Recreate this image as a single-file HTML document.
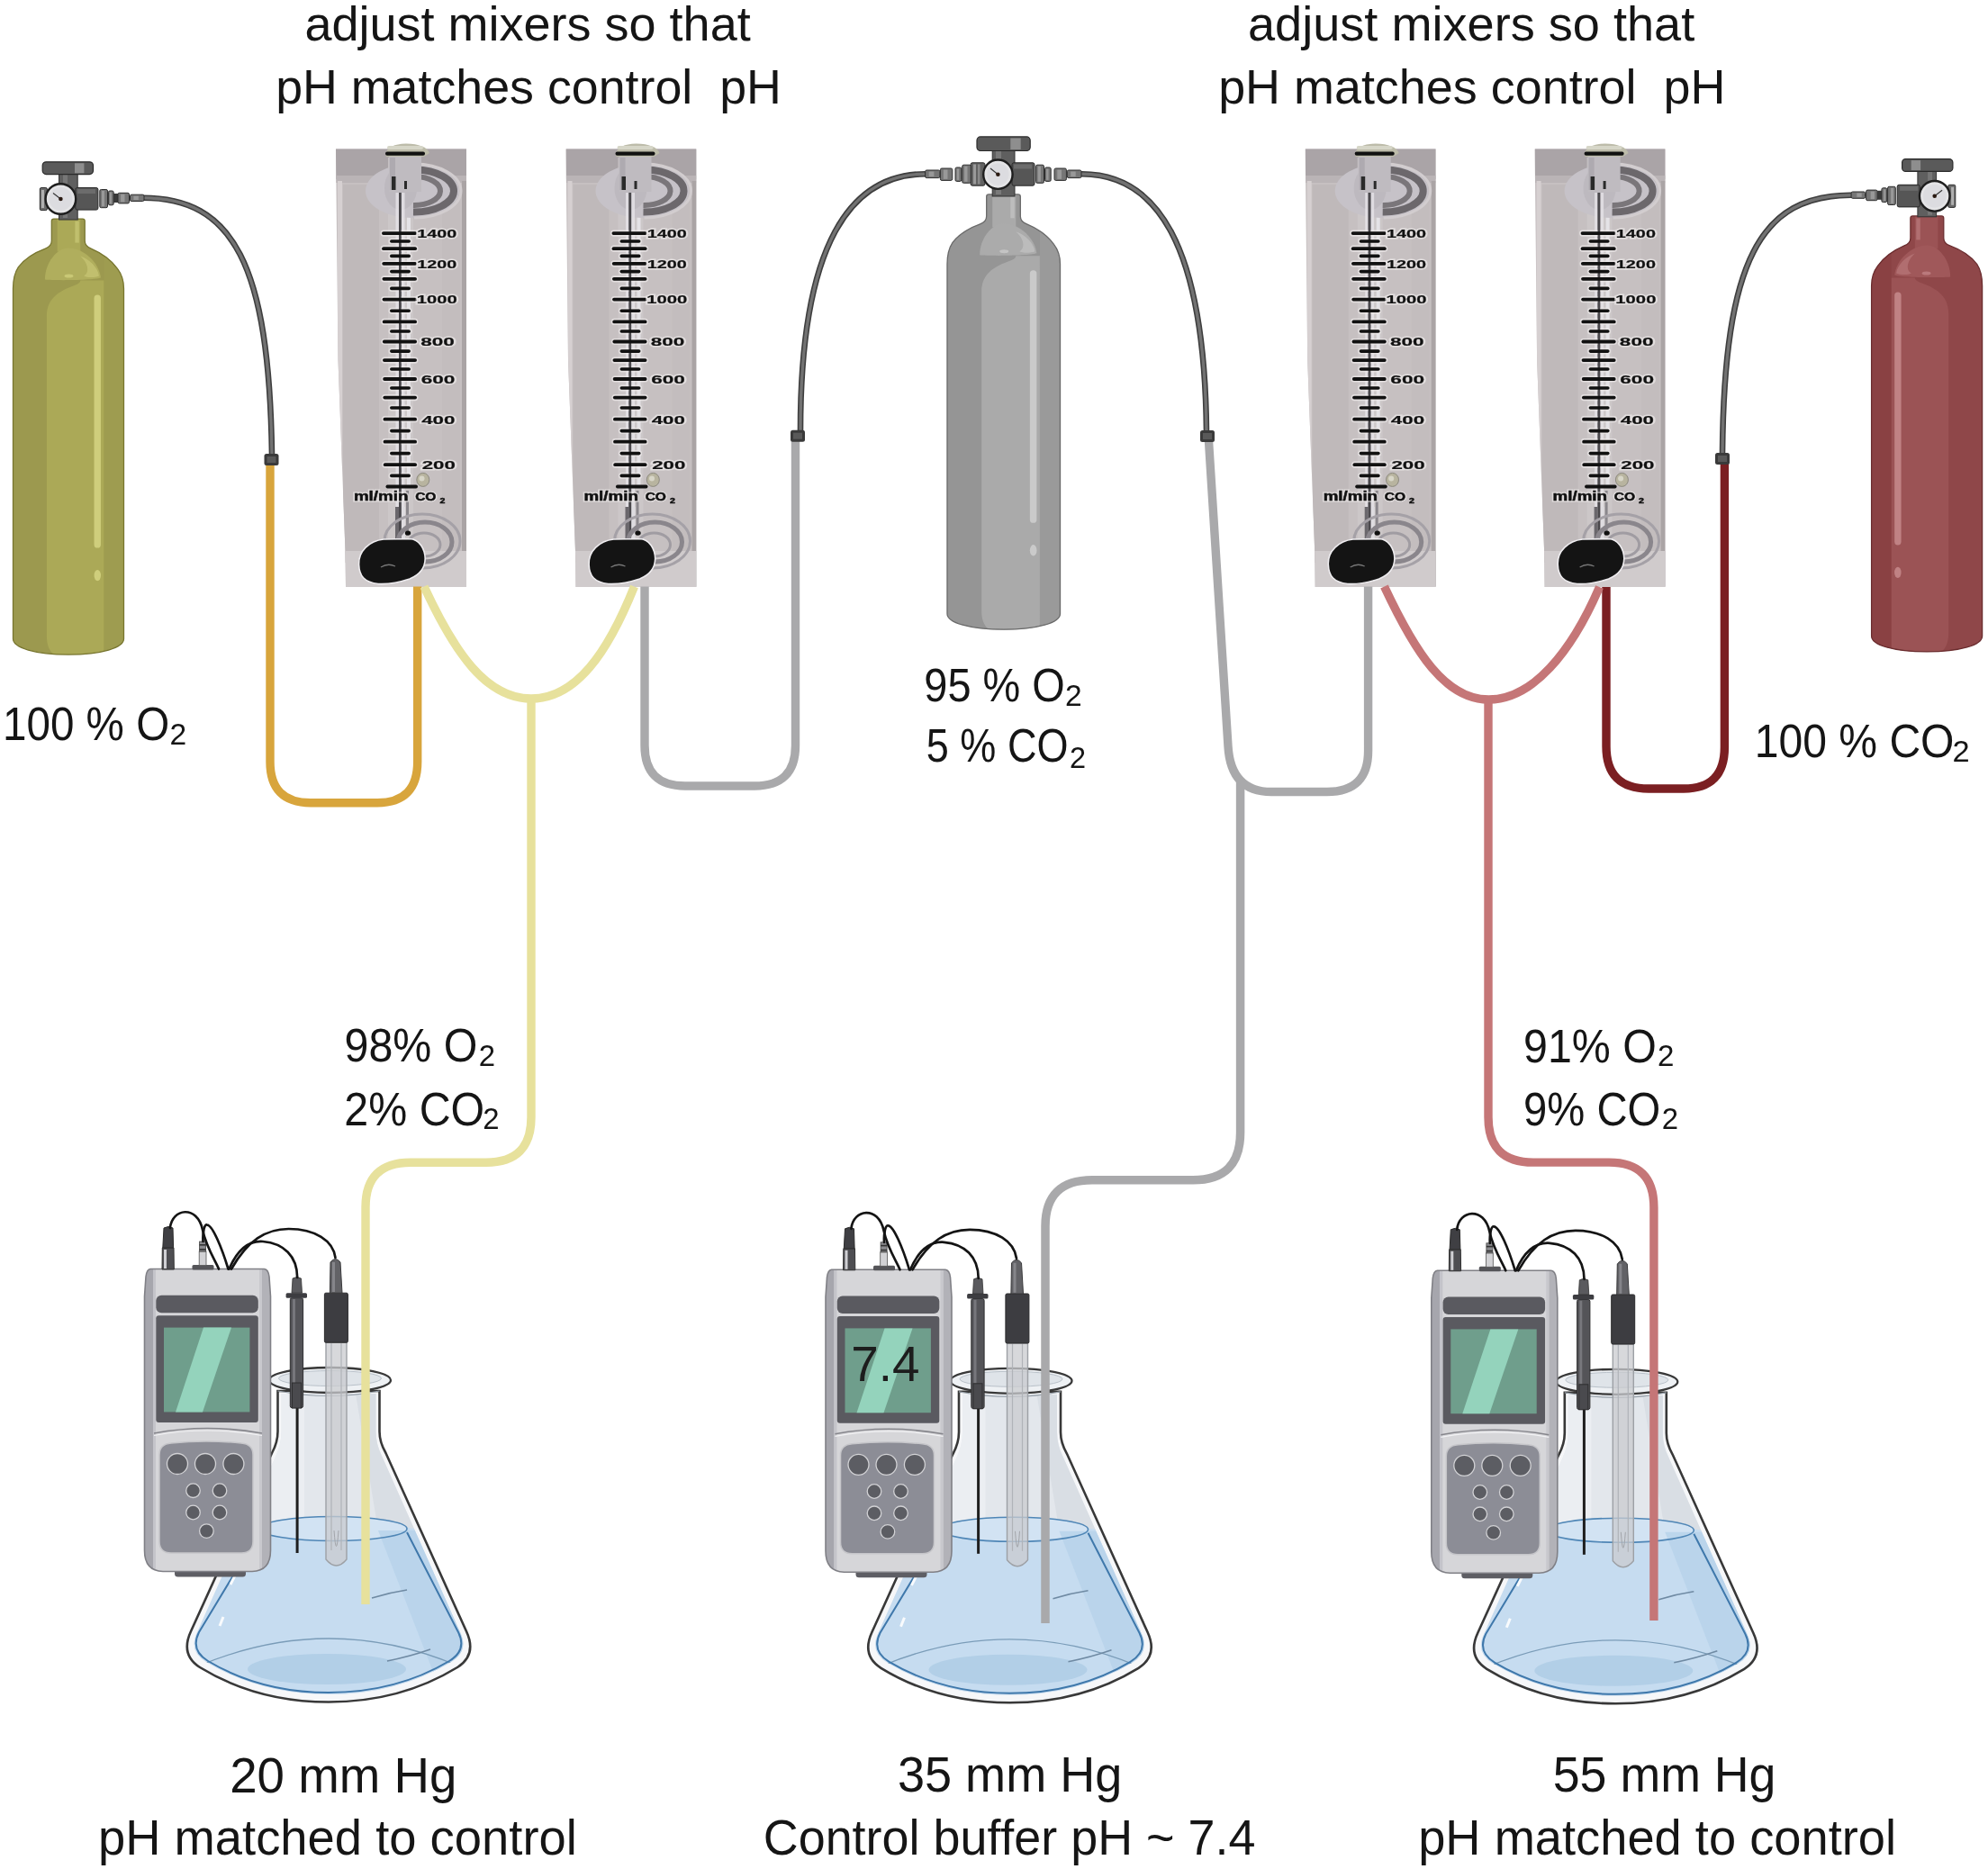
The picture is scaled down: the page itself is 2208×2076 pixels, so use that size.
<!DOCTYPE html>
<html><head><meta charset="utf-8"><title>Gas mixing setup</title>
<style>
html,body{margin:0;padding:0;background:#ffffff;}
body{width:2208px;height:2076px;overflow:hidden;}
svg{display:block;font-family:"Liberation Sans",sans-serif;font-kerning:none;will-change:transform;}
text{font-kerning:none;}
</style></head><body>
<svg xmlns="http://www.w3.org/2000/svg" width="2208" height="2076" viewBox="0 0 2208 2076">
<rect width="2208" height="2076" fill="#ffffff"/>
<defs><clipPath id="clipY"><path d="M43.5,66 Q43.5,63.5 46,63.5 L78.5,63.5 Q81,63.5 81,66 L81,88 Q81,94 88,96.5 Q108,105 118,119 Q125,128 125,141 L125,530 C125,540 100,547.5 62.5,547.5 C25,547.5 0,540 0,530 L0,141 Q0,126 6,117 Q16,104 36.5,96.5 Q43.5,94 43.5,88 Z"/></clipPath><g id="cylY"><path d="M43.5,66 Q43.5,63.5 46,63.5 L78.5,63.5 Q81,63.5 81,66 L81,88 Q81,94 88,96.5 Q108,105 118,119 Q125,128 125,141 L125,530 C125,540 100,547.5 62.5,547.5 C25,547.5 0,540 0,530 L0,141 Q0,126 6,117 Q16,104 36.5,96.5 Q43.5,94 43.5,88 Z" fill="#9c994f"/><g clip-path="url(#clipY)"><rect x="102.5" y="60" width="25" height="490" fill="#9e9c50"/><rect x="50" y="60" width="26" height="40" fill="#aba957"/><rect x="70" y="66" width="4.5" height="24" fill="#cfce7c" opacity="0.6"/><path d="M36,131 C36,112 50,96 62,96 C80,96 97,112 99,129 C90,132 45,132 36,131 Z" fill="#b0ae5d"/><path d="M76,105 C86,108 96,118 97,127 C92,129 84,129 80,127 C86,124 86,114 76,105 Z" fill="#cfce7c" opacity="0.55"/><ellipse cx="63" cy="127" rx="5" ry="2" fill="#cfce7c" opacity="0.8"/><path d="M38,172 C38,150 55,143 68,138 C74,136 76,134 76,132 L102.5,132 L102.5,550 L55,550 C45,550 38,542 38,527 Z" fill="#aba957"/><rect x="91.5" y="148" width="7.5" height="281" rx="3.7" fill="#cfce7c"/><ellipse cx="95.3" cy="459.5" rx="3.8" ry="6.2" fill="#cfce7c"/></g><path d="M43.5,66 Q43.5,63.5 46,63.5 L78.5,63.5 Q81,63.5 81,66 L81,88 Q81,94 88,96.5 Q108,105 118,119 Q125,128 125,141 L125,530 C125,540 100,547.5 62.5,547.5 C25,547.5 0,540 0,530 L0,141 Q0,126 6,117 Q16,104 36.5,96.5 Q43.5,94 43.5,88 Z" fill="none" stroke="#77752f" stroke-width="1.3"/></g><clipPath id="clipG"><path d="M43.5,66 Q43.5,63.5 46,63.5 L78.5,63.5 Q81,63.5 81,66 L81,88 Q81,94 88,96.5 Q108,105 118,119 Q125,128 125,141 L125,530 C125,540 100,547.5 62.5,547.5 C25,547.5 0,540 0,530 L0,141 Q0,126 6,117 Q16,104 36.5,96.5 Q43.5,94 43.5,88 Z"/></clipPath><g id="cylG"><path d="M43.5,66 Q43.5,63.5 46,63.5 L78.5,63.5 Q81,63.5 81,66 L81,88 Q81,94 88,96.5 Q108,105 118,119 Q125,128 125,141 L125,530 C125,540 100,547.5 62.5,547.5 C25,547.5 0,540 0,530 L0,141 Q0,126 6,117 Q16,104 36.5,96.5 Q43.5,94 43.5,88 Z" fill="#959595"/><g clip-path="url(#clipG)"><rect x="102.5" y="60" width="25" height="490" fill="#9a9a9a"/><rect x="50" y="60" width="26" height="40" fill="#aaaaaa"/><rect x="70" y="66" width="4.5" height="24" fill="#cacaca" opacity="0.6"/><path d="M36,131 C36,112 50,96 62,96 C80,96 97,112 99,129 C90,132 45,132 36,131 Z" fill="#ababab"/><path d="M76,105 C86,108 96,118 97,127 C92,129 84,129 80,127 C86,124 86,114 76,105 Z" fill="#cacaca" opacity="0.55"/><ellipse cx="63" cy="127" rx="5" ry="2" fill="#cacaca" opacity="0.8"/><path d="M38,172 C38,150 55,143 68,138 C74,136 76,134 76,132 L102.5,132 L102.5,550 L55,550 C45,550 38,542 38,527 Z" fill="#aaaaaa"/><rect x="91.5" y="148" width="7.5" height="281" rx="3.7" fill="#cacaca"/><ellipse cx="95.3" cy="459.5" rx="3.8" ry="6.2" fill="#cacaca"/></g><path d="M43.5,66 Q43.5,63.5 46,63.5 L78.5,63.5 Q81,63.5 81,66 L81,88 Q81,94 88,96.5 Q108,105 118,119 Q125,128 125,141 L125,530 C125,540 100,547.5 62.5,547.5 C25,547.5 0,540 0,530 L0,141 Q0,126 6,117 Q16,104 36.5,96.5 Q43.5,94 43.5,88 Z" fill="none" stroke="#6a6a6a" stroke-width="1.3"/></g><clipPath id="clipR"><path d="M43.5,66 Q43.5,63.5 46,63.5 L78.5,63.5 Q81,63.5 81,66 L81,88 Q81,94 88,96.5 Q108,105 118,119 Q125,128 125,141 L125,530 C125,540 100,547.5 62.5,547.5 C25,547.5 0,540 0,530 L0,141 Q0,126 6,117 Q16,104 36.5,96.5 Q43.5,94 43.5,88 Z"/></clipPath><g id="cylR"><path d="M43.5,66 Q43.5,63.5 46,63.5 L78.5,63.5 Q81,63.5 81,66 L81,88 Q81,94 88,96.5 Q108,105 118,119 Q125,128 125,141 L125,530 C125,540 100,547.5 62.5,547.5 C25,547.5 0,540 0,530 L0,141 Q0,126 6,117 Q16,104 36.5,96.5 Q43.5,94 43.5,88 Z" fill="#8f4749"/><g clip-path="url(#clipR)"><rect x="102.5" y="60" width="25" height="490" fill="#8a4143"/><rect x="50" y="60" width="26" height="40" fill="#9b5355"/><rect x="70" y="66" width="4.5" height="24" fill="#c08284" opacity="0.6"/><path d="M36,131 C36,112 50,96 62,96 C80,96 97,112 99,129 C90,132 45,132 36,131 Z" fill="#a0585a"/><path d="M76,105 C86,108 96,118 97,127 C92,129 84,129 80,127 C86,124 86,114 76,105 Z" fill="#c08284" opacity="0.55"/><ellipse cx="63" cy="127" rx="5" ry="2" fill="#c08284" opacity="0.8"/><path d="M38,172 C38,150 55,143 68,138 C74,136 76,134 76,132 L102.5,132 L102.5,550 L55,550 C45,550 38,542 38,527 Z" fill="#9b5355"/><rect x="91.5" y="148" width="7.5" height="281" rx="3.7" fill="#c08284"/><ellipse cx="95.3" cy="459.5" rx="3.8" ry="6.2" fill="#c08284"/></g><path d="M43.5,66 Q43.5,63.5 46,63.5 L78.5,63.5 Q81,63.5 81,66 L81,88 Q81,94 88,96.5 Q108,105 118,119 Q125,128 125,141 L125,530 C125,540 100,547.5 62.5,547.5 C25,547.5 0,540 0,530 L0,141 Q0,126 6,117 Q16,104 36.5,96.5 Q43.5,94 43.5,88 Z" fill="none" stroke="#6a2c2e" stroke-width="1.3"/></g><g id="regY"><rect x="65.5" y="192" width="20.7" height="52" fill="#5f5f5f" stroke="#333" stroke-width="1"/><rect x="70" y="194" width="5" height="48" fill="#777"/><rect x="47.2" y="179.8" width="56.3" height="13.8" rx="4" fill="#5a5a5a" stroke="#2a2a2a" stroke-width="1.2"/><rect x="83" y="181.3" width="10.4" height="11" fill="#8e8e8e"/><rect x="44.3" y="208.5" width="8" height="25.1" rx="1.5" fill="#6a6a6a" stroke="#2e2e2e" stroke-width="1"/><rect x="46" y="211" width="3" height="20" fill="#b0b0b0"/><rect x="83.8" y="208.5" width="25.1" height="24.6" rx="2" fill="#565656" stroke="#2a2a2a" stroke-width="1"/><rect x="86" y="210" width="20" height="5" fill="#6c6c6c"/><rect x="126" y="215" width="5" height="10" fill="#3a3a3a"/><rect x="110.8" y="210.5" width="8.7" height="20.2" rx="1.6" fill="#767676" stroke="#2e2e2e" stroke-width="1"/><rect x="113.0" y="212.0" width="3.0" height="17.2" fill="#a8a8a8" opacity="0.7"/><rect x="120.4" y="212" width="5.8" height="15.8" rx="1.6" fill="#767676" stroke="#2e2e2e" stroke-width="1"/><rect x="121.9" y="213.5" width="2.0" height="12.8" fill="#a8a8a8" opacity="0.7"/><rect x="131" y="214.3" width="12.5" height="11.6" rx="1.6" fill="#767676" stroke="#2e2e2e" stroke-width="1"/><rect x="134.1" y="215.8" width="4.4" height="8.6" fill="#a8a8a8" opacity="0.7"/><rect x="144.5" y="216.2" width="15.5" height="7.3" rx="1.6" fill="#767676" stroke="#2e2e2e" stroke-width="1"/><rect x="148.4" y="217.7" width="5.4" height="4.3" fill="#a8a8a8" opacity="0.7"/><circle cx="67.4" cy="221" r="16.8" fill="#e4e4e6" stroke="#1e1e1e" stroke-width="2.4"/><circle cx="67.4" cy="221" r="12.8" fill="#dcdce0"/><line x1="67.4" y1="221" x2="59" y2="214.5" stroke="#333" stroke-width="1.1"/><circle cx="67.4" cy="221" r="2.3" fill="#2a1a12"/></g><g id="regG"><rect x="1102.2" y="166" width="24.8" height="52" fill="#5f5f5f" stroke="#333" stroke-width="1"/><rect x="1106" y="168" width="6" height="48" fill="#7a7a7a"/><rect x="1085" y="151.9" width="59.2" height="15.6" rx="4" fill="#5a5a5a" stroke="#2a2a2a" stroke-width="1.2"/><rect x="1122.3" y="153.5" width="11.4" height="12.5" fill="#8e8e8e"/><rect x="1078" y="180.8" width="16" height="25.4" rx="2" fill="#626262" stroke="#2a2a2a" stroke-width="1"/><rect x="1081" y="182.5" width="3" height="22" fill="#9a9a9a"/><rect x="1086" y="182.5" width="2.5" height="22" fill="#8a8a8a"/><rect x="1124" y="180.8" width="25" height="25.4" rx="2" fill="#565656" stroke="#2a2a2a" stroke-width="1"/><rect x="1126" y="182.5" width="20" height="5" fill="#6c6c6c"/><rect x="1068.7" y="183.2" width="9.6" height="20.1" rx="1.6" fill="#767676" stroke="#2e2e2e" stroke-width="1"/><rect x="1071.1" y="184.7" width="3.4" height="17.1" fill="#a8a8a8" opacity="0.7"/><rect x="1061" y="186" width="6.8" height="15.4" rx="1.6" fill="#767676" stroke="#2e2e2e" stroke-width="1"/><rect x="1062.7" y="187.5" width="2.4" height="12.4" fill="#a8a8a8" opacity="0.7"/><rect x="1044.4" y="187" width="13.4" height="13.4" rx="1.6" fill="#767676" stroke="#2e2e2e" stroke-width="1"/><rect x="1047.8" y="188.5" width="4.7" height="10.4" fill="#a8a8a8" opacity="0.7"/><rect x="1027.6" y="189" width="16.3" height="8.6" rx="1.6" fill="#767676" stroke="#2e2e2e" stroke-width="1"/><rect x="1031.7" y="190.5" width="5.7" height="5.6" fill="#a8a8a8" opacity="0.7"/><rect x="1150.5" y="183.2" width="9.0" height="20.1" rx="1.6" fill="#767676" stroke="#2e2e2e" stroke-width="1"/><rect x="1152.8" y="184.7" width="3.1" height="17.1" fill="#a8a8a8" opacity="0.7"/><rect x="1160.5" y="186" width="6.7" height="15.4" rx="1.6" fill="#767676" stroke="#2e2e2e" stroke-width="1"/><rect x="1162.2" y="187.5" width="2.3" height="12.4" fill="#a8a8a8" opacity="0.7"/><rect x="1171" y="187" width="13.4" height="13.4" rx="1.6" fill="#767676" stroke="#2e2e2e" stroke-width="1"/><rect x="1174.3" y="188.5" width="4.7" height="10.4" fill="#a8a8a8" opacity="0.7"/><rect x="1185.3" y="189" width="15.7" height="8.6" rx="1.6" fill="#767676" stroke="#2e2e2e" stroke-width="1"/><rect x="1189.2" y="190.5" width="5.5" height="5.6" fill="#a8a8a8" opacity="0.7"/><circle cx="1108.4" cy="193.7" r="16.2" fill="#e4e4e6" stroke="#1e1e1e" stroke-width="2.4"/><circle cx="1108.4" cy="193.7" r="12.2" fill="#dcdce0"/><line x1="1108.4" y1="193.7" x2="1100" y2="187" stroke="#333" stroke-width="1.1"/><circle cx="1108.4" cy="193.7" r="2.3" fill="#2a1a12"/></g><clipPath id="fmclip"><path d="M0,0.5 L145,0.5 L145,487 L11,487 L10.5,447 L2.5,235 Z"/></clipPath><g id="fm"><path d="M0,0.5 L145,0.5 L145,487 L11,487 L10.5,447 L2.5,235 Z" fill="#c6c0c1"/><g clip-path="url(#fmclip)"><rect x="0" y="0" width="145" height="34" fill="#aaa4a7"/><rect x="0" y="30" width="145" height="8" fill="#bab4b6"/><rect x="2" y="36" width="5" height="450" fill="#d6d0d1"/><rect x="8" y="40" width="40" height="420" fill="#bfb9ba"/><rect x="118" y="40" width="20" height="440" fill="#c3bdbe"/><rect x="140" y="36" width="5" height="450" fill="#aaa4a5"/><rect x="0" y="447" width="145" height="40" fill="#d0cbcc"/><rect x="58" y="10" width="28" height="440" fill="#cdc8c9" opacity="0.8"/><rect x="79" y="45" width="4" height="330" fill="#e4e2e6"/><ellipse cx="85" cy="47" rx="52" ry="30" fill="#c6c2c8"/><path d="M87,17 A52,30 0 0 1 87,77" fill="none" stroke="#d2cdcf" stroke-width="3"/><path d="M88,23.5 A44,23.5 0 0 1 86,70.5" fill="none" stroke="#6c686c" stroke-width="8"/><path d="M88,31 A29,16 0 0 1 86,63" fill="none" stroke="#7a767a" stroke-width="6"/><ellipse cx="72" cy="44" rx="18" ry="24" fill="#b9b5bb" opacity="0.7"/><rect x="59" y="8" width="36" height="40" fill="#bfbbc0"/><rect x="60" y="10" width="6" height="36" fill="#aeaab0"/><rect x="62" y="31" width="4.5" height="15" fill="#2a2a2a"/><rect x="76" y="36" width="3" height="9" fill="#2a2a2a"/><rect x="66.5" y="49" width="10" height="400" fill="#e6e4e8" opacity="0.8"/><rect x="70" y="49" width="2.6" height="400" fill="#3c3a3e"/><rect x="78" y="380" width="3" height="50" fill="#8a878c"/></g><path d="M55,6 Q58,-5 78,-5.5 Q100,-5 104,5 L98,9 L56,9 Z" fill="#bdbcaa"/><rect x="57" y="-3" width="40" height="4" rx="2" fill="#d6d6c8"/><rect x="55" y="3.5" width="44" height="4.2" rx="2" fill="#111"/><rect x="49.5" y="90.5" width="42.0" height="7.2" rx="3.6" fill="#ece8e8" opacity="0.75"/><rect x="49.6" y="107.6" width="41.9" height="7.2" rx="3.6" fill="#ece8e8" opacity="0.75"/><rect x="49.8" y="124.2" width="41.7" height="7.2" rx="3.6" fill="#ece8e8" opacity="0.75"/><rect x="50.0" y="141.2" width="41.5" height="7.2" rx="3.6" fill="#ece8e8" opacity="0.75"/><rect x="50.1" y="164.0" width="41.4" height="7.2" rx="3.6" fill="#ece8e8" opacity="0.75"/><rect x="50.2" y="188.8" width="41.2" height="7.2" rx="3.6" fill="#ece8e8" opacity="0.75"/><rect x="50.4" y="210.9" width="41.1" height="7.2" rx="3.6" fill="#ece8e8" opacity="0.75"/><rect x="50.5" y="231.5" width="41.0" height="7.2" rx="3.6" fill="#ece8e8" opacity="0.75"/><rect x="50.7" y="252.4" width="40.8" height="7.2" rx="3.6" fill="#ece8e8" opacity="0.75"/><rect x="50.9" y="273.0" width="40.6" height="7.2" rx="3.6" fill="#ece8e8" opacity="0.75"/><rect x="51.0" y="297.1" width="40.5" height="7.2" rx="3.6" fill="#ece8e8" opacity="0.75"/><rect x="51.1" y="322.1" width="40.4" height="7.2" rx="3.6" fill="#ece8e8" opacity="0.75"/><rect x="51.3" y="347.6" width="40.2" height="7.2" rx="3.6" fill="#ece8e8" opacity="0.75"/><rect x="58.5" y="99.5" width="26" height="7" rx="3.5" fill="#ece8e8" opacity="0.75"/><rect x="58.5" y="115.9" width="26" height="7" rx="3.5" fill="#ece8e8" opacity="0.75"/><rect x="58.5" y="133.1" width="26" height="7" rx="3.5" fill="#ece8e8" opacity="0.75"/><rect x="58.5" y="151.9" width="26" height="7" rx="3.5" fill="#ece8e8" opacity="0.75"/><rect x="58.5" y="176.7" width="26" height="7" rx="3.5" fill="#ece8e8" opacity="0.75"/><rect x="58.5" y="199.5" width="26" height="7" rx="3.5" fill="#ece8e8" opacity="0.75"/><rect x="58.5" y="221.6" width="26" height="7" rx="3.5" fill="#ece8e8" opacity="0.75"/><rect x="58.5" y="241.5" width="26" height="7" rx="3.5" fill="#ece8e8" opacity="0.75"/><rect x="58.5" y="262.5" width="26" height="7" rx="3.5" fill="#ece8e8" opacity="0.75"/><rect x="58.5" y="284.5" width="26" height="7" rx="3.5" fill="#ece8e8" opacity="0.75"/><rect x="58.5" y="310.1" width="26" height="7" rx="3.5" fill="#ece8e8" opacity="0.75"/><rect x="58.5" y="335.1" width="26" height="7" rx="3.5" fill="#ece8e8" opacity="0.75"/><rect x="58.5" y="359.9" width="26" height="7" rx="3.5" fill="#ece8e8" opacity="0.75"/><rect x="70" y="49" width="2.6" height="380" fill="#4a484c"/><rect x="51.0" y="92.2" width="39.0" height="3.8" rx="1.9" fill="#111"/><rect x="51.1" y="109.3" width="38.9" height="3.8" rx="1.9" fill="#111"/><rect x="51.3" y="125.9" width="38.7" height="3.8" rx="1.9" fill="#111"/><rect x="51.5" y="142.9" width="38.5" height="3.8" rx="1.9" fill="#111"/><rect x="51.6" y="165.7" width="38.4" height="3.8" rx="1.9" fill="#111"/><rect x="51.8" y="190.5" width="38.2" height="3.8" rx="1.9" fill="#111"/><rect x="51.9" y="212.6" width="38.1" height="3.8" rx="1.9" fill="#111"/><rect x="52.0" y="233.2" width="38.0" height="3.8" rx="1.9" fill="#111"/><rect x="52.2" y="254.1" width="37.8" height="3.8" rx="1.9" fill="#111"/><rect x="52.4" y="274.7" width="37.6" height="3.8" rx="1.9" fill="#111"/><rect x="52.5" y="298.8" width="37.5" height="3.8" rx="1.9" fill="#111"/><rect x="52.6" y="323.8" width="37.4" height="3.8" rx="1.9" fill="#111"/><rect x="52.8" y="349.3" width="37.2" height="3.8" rx="1.9" fill="#111"/><rect x="60" y="101.2" width="23" height="3.6" rx="1.8" fill="#111"/><rect x="60" y="117.6" width="23" height="3.6" rx="1.8" fill="#111"/><rect x="60" y="134.8" width="23" height="3.6" rx="1.8" fill="#111"/><rect x="60" y="153.6" width="23" height="3.6" rx="1.8" fill="#111"/><rect x="60" y="178.4" width="23" height="3.6" rx="1.8" fill="#111"/><rect x="60" y="201.2" width="23" height="3.6" rx="1.8" fill="#111"/><rect x="60" y="223.3" width="23" height="3.6" rx="1.8" fill="#111"/><rect x="60" y="243.2" width="23" height="3.6" rx="1.8" fill="#111"/><rect x="60" y="264.2" width="23" height="3.6" rx="1.8" fill="#111"/><rect x="60" y="286.2" width="23" height="3.6" rx="1.8" fill="#111"/><rect x="60" y="311.8" width="23" height="3.6" rx="1.8" fill="#111"/><rect x="60" y="336.8" width="23" height="3.6" rx="1.8" fill="#111"/><rect x="60" y="361.6" width="23" height="3.6" rx="1.8" fill="#111"/><rect x="55.5" y="373.6" width="35.5" height="3.8" rx="1.9" fill="#111"/><ellipse cx="96.8" cy="367.9" rx="7" ry="7.5" fill="#b8b49f" stroke="#8d8a80" stroke-width="1"/><ellipse cx="95.5" cy="366.5" rx="3" ry="3" fill="#d8d6c8"/><text x="90.25" y="98.90" font-size="13.5" font-weight="bold" fill="#ece8e8" textLength="44.06" lengthAdjust="spacingAndGlyphs" stroke="#ece8e8" stroke-width="3.2" opacity="0.75">1400</text><text x="90.25" y="132.60" font-size="13.5" font-weight="bold" fill="#ece8e8" textLength="44.06" lengthAdjust="spacingAndGlyphs" stroke="#ece8e8" stroke-width="3.2" opacity="0.75">1200</text><text x="89.72" y="172.40" font-size="13.5" font-weight="bold" fill="#ece8e8" textLength="45.11" lengthAdjust="spacingAndGlyphs" stroke="#ece8e8" stroke-width="3.2" opacity="0.75">1000</text><text x="94.28" y="219.30" font-size="13.5" font-weight="bold" fill="#ece8e8" textLength="37.64" lengthAdjust="spacingAndGlyphs" stroke="#ece8e8" stroke-width="3.2" opacity="0.75">800</text><text x="94.67" y="260.80" font-size="13.5" font-weight="bold" fill="#ece8e8" textLength="37.76" lengthAdjust="spacingAndGlyphs" stroke="#ece8e8" stroke-width="3.2" opacity="0.75">600</text><text x="95.16" y="305.50" font-size="13.5" font-weight="bold" fill="#ece8e8" textLength="37.25" lengthAdjust="spacingAndGlyphs" stroke="#ece8e8" stroke-width="3.2" opacity="0.75">400</text><text x="95.73" y="356.00" font-size="13.5" font-weight="bold" fill="#ece8e8" textLength="37.19" lengthAdjust="spacingAndGlyphs" stroke="#ece8e8" stroke-width="3.2" opacity="0.75">200</text><text x="90.25" y="98.90" font-size="13.5" font-weight="bold" fill="#111" textLength="44.06" lengthAdjust="spacingAndGlyphs" stroke="#111" stroke-width="0.2">1400</text><text x="90.25" y="132.60" font-size="13.5" font-weight="bold" fill="#111" textLength="44.06" lengthAdjust="spacingAndGlyphs" stroke="#111" stroke-width="0.2">1200</text><text x="89.72" y="172.40" font-size="13.5" font-weight="bold" fill="#111" textLength="45.11" lengthAdjust="spacingAndGlyphs" stroke="#111" stroke-width="0.2">1000</text><text x="94.28" y="219.30" font-size="13.5" font-weight="bold" fill="#111" textLength="37.64" lengthAdjust="spacingAndGlyphs" stroke="#111" stroke-width="0.2">800</text><text x="94.67" y="260.80" font-size="13.5" font-weight="bold" fill="#111" textLength="37.76" lengthAdjust="spacingAndGlyphs" stroke="#111" stroke-width="0.2">600</text><text x="95.16" y="305.50" font-size="13.5" font-weight="bold" fill="#111" textLength="37.25" lengthAdjust="spacingAndGlyphs" stroke="#111" stroke-width="0.2">400</text><text x="95.73" y="356.00" font-size="13.5" font-weight="bold" fill="#111" textLength="37.19" lengthAdjust="spacingAndGlyphs" stroke="#111" stroke-width="0.2">200</text><text x="19.96" y="391.00" font-size="14" font-weight="bold" fill="#ece8e8" textLength="60.40" lengthAdjust="spacingAndGlyphs" stroke="#ece8e8" stroke-width="3" opacity="0.7">ml/min</text><text x="88.16" y="391.00" font-size="12.5" font-weight="bold" fill="#ece8e8" textLength="23.29" lengthAdjust="spacingAndGlyphs" stroke="#ece8e8" stroke-width="3" opacity="0.7">CO</text><text x="19.96" y="391.00" font-size="14" font-weight="bold" fill="#111" textLength="60.40" lengthAdjust="spacingAndGlyphs" stroke="#111" stroke-width="0.5">ml/min</text><text x="88.16" y="391.00" font-size="12.5" font-weight="bold" fill="#111" textLength="23.29" lengthAdjust="spacingAndGlyphs" stroke="#111" stroke-width="0.5">CO</text><text x="115.43" y="394.40" font-size="9" font-weight="bold" fill="#111" textLength="5.89" lengthAdjust="spacingAndGlyphs" stroke="#111" stroke-width="0.5">2</text><rect x="66" y="398" width="4" height="42" fill="#6a676c"/><rect x="74" y="398" width="3" height="40" fill="#dedce0"/><ellipse cx="96" cy="436" rx="42" ry="30" fill="none" stroke="#a5a1a7" stroke-width="3"/><ellipse cx="99" cy="437" rx="30" ry="22" fill="none" stroke="#8a868c" stroke-width="5"/><ellipse cx="98" cy="440" rx="18" ry="13" fill="none" stroke="#a09ca2" stroke-width="3"/><ellipse cx="80" cy="427" rx="3.2" ry="2.6" fill="#111"/><path d="M25.6,462 C25,447 37,436 53,434 L82,433.5 C93,434 99,445 99.2,455.6 C99,467 92,474 82,478 C67,483 57,484 47,483.5 C32,482 26,475 25.6,462 Z" fill="#141414" stroke="#efedf0" stroke-width="1.6"/><path d="M50,465 Q58,460 66,464" fill="none" stroke="#777" stroke-width="1.3"/></g></defs><path d="M157,219.8 C259,219 299,293 302,505" fill="none" stroke="#3e3e3e" stroke-width="6.6" stroke-linecap="butt"/><path d="M157,219.8 C259,219 299,293 302,505" fill="none" stroke="#727272" stroke-width="3.4" stroke-linecap="butt"/><path d="M1028,193.3 C945,193 889,270 889,478" fill="none" stroke="#3e3e3e" stroke-width="6.6" stroke-linecap="butt"/><path d="M1028,193.3 C945,193 889,270 889,478" fill="none" stroke="#727272" stroke-width="3.4" stroke-linecap="butt"/><path d="M1201,193.3 C1284,193 1338,270 1340,480" fill="none" stroke="#3e3e3e" stroke-width="6.6" stroke-linecap="butt"/><path d="M1201,193.3 C1284,193 1338,270 1340,480" fill="none" stroke="#727272" stroke-width="3.4" stroke-linecap="butt"/><path d="M2057,216.8 C1955,216 1915,290 1913,503" fill="none" stroke="#3e3e3e" stroke-width="6.6" stroke-linecap="butt"/><path d="M2057,216.8 C1955,216 1915,290 1913,503" fill="none" stroke="#727272" stroke-width="3.4" stroke-linecap="butt"/><use href="#cylY" transform="translate(14.5,179.6) scale(0.984,1)"/><use href="#regY"/><use href="#cylG" transform="translate(1052,152.5) scale(1.004,0.9985)"/><use href="#regG"/><use href="#cylR" transform="translate(2201.6,176.4) scale(-0.984,1)"/><use href="#regY" transform="translate(2216.1,-3.2) scale(-1,1)"/><use href="#fm" transform="translate(373.0,165)"/><use href="#fm" transform="translate(628.5,165)"/><use href="#fm" transform="translate(1449.7,165)"/><use href="#fm" transform="translate(1704.6,165)"/>
<g transform="translate(0,0)"><clipPath id="flin0"><path d="M312.5,1548 L312.5,1590 Q312.5,1604 306.5,1617 L219,1813 Q209,1834 229,1846 Q289,1882 365,1882 Q441,1882 501,1846 Q521,1834 511,1813 L424,1617 Q417.5,1604 417.5,1590 L417.5,1548 Z"/></clipPath><path d="M308.5,1545 L308.5,1590 Q308.5,1602 302,1614 L212,1812 Q200,1838 222,1852 Q285,1890.5 365,1890.5 Q445,1890.5 508,1852 Q530,1838 518,1812 L428.5,1614 Q421.5,1602 421.5,1590 L421.5,1545 Z" fill="#f6f7f9" stroke="#383838" stroke-width="2.6"/><path d="M312.5,1548 L312.5,1590 Q312.5,1604 306.5,1617 L219,1813 Q209,1834 229,1846 Q289,1882 365,1882 Q441,1882 501,1846 Q521,1834 511,1813 L424,1617 Q417.5,1604 417.5,1590 L417.5,1548 Z" fill="#e3e7ec"/><g clip-path="url(#flin0)"><path d="M312,1548 L338,1548 L338,1700 L280,1700 Z" fill="#ebeef2"/><path d="M395,1548 L419,1548 L470,1700 L420,1700 Z" fill="#d9dee4"/><path d="M250,1698 Q370,1680 460,1698 L560,1900 L170,1900 Z" fill="#c6dcf0"/><ellipse cx="370" cy="1698" rx="82" ry="13.5" fill="#d2e3f3"/><path d="M420,1700 L470,1700 L540,1880 L490,1880 Z" fill="#b7d2ea" opacity="0.8"/><ellipse cx="363" cy="1854" rx="88" ry="17" fill="#b2cfe7"/><path d="M222,1850 Q365,1790 508,1850" fill="none" stroke="#7a9cb8" stroke-width="1.3"/></g><ellipse cx="370" cy="1698" rx="82" ry="13.5" fill="none" stroke="#4f86b6" stroke-width="1.6"/><path d="M288,1702 L221,1813 Q211,1833 231,1845 Q290,1880 365,1880 Q440,1880 499,1845 Q519,1833 509,1813 L452,1702" fill="none" stroke="#3f78ab" stroke-width="2"/><path d="M413,1775 Q432,1769 452,1766" fill="none" stroke="#6f8aa3" stroke-width="1.5"/><path d="M430,1845 Q455,1840 478,1832" fill="none" stroke="#6f8aa3" stroke-width="1.5"/><path d="M256,1760 L262,1748" stroke="#ffffff" stroke-width="3" opacity="0.9"/><path d="M244,1806 L248,1796" stroke="#ffffff" stroke-width="3" opacity="0.9"/><ellipse cx="366.5" cy="1533" rx="67.5" ry="14" fill="#eef1f4" stroke="#383838" stroke-width="2.3"/><ellipse cx="366.5" cy="1531" rx="57" ry="8.5" fill="#dfe4e9" stroke="#b9c1c9" stroke-width="1"/><path d="M308.5,1545 Q366,1556 421.5,1545" fill="none" stroke="#9aa3ac" stroke-width="1.2"/><rect x="328.6" y="1560" width="3" height="165" fill="#1e1e1e"/><rect x="322.3" y="1441.7" width="14.3" height="122" rx="2" fill="#545458" stroke="#2e2e30" stroke-width="1"/><rect x="325" y="1443" width="3" height="118" fill="#77777c"/><rect x="324.5" y="1536" width="10" height="28" fill="#4a4a4e" stroke="#2e2e30" stroke-width="1"/><rect x="317.6" y="1436.2" width="23.4" height="5.5" rx="1.5" fill="#3d3d41"/><path d="M324,1436.2 L325,1420 Q329.6,1417 334.5,1420 L335.5,1436.2 Z" fill="#5a5a5e" stroke="#333" stroke-width="0.8"/><path d="M362,1491 L362,1732 Q373.5,1746 385,1732 L385,1491 Z" fill="#c9cbcf" fill-opacity="0.75" stroke="#9da0a5" stroke-width="1.4"/><path d="M368,1491 L368,1722 M379,1491 L379,1722" fill="none" stroke="#b0b3b8" stroke-width="1.2"/><path d="M371,1700 Q373.5,1735 376,1700" fill="none" stroke="#a2a5aa" stroke-width="1"/><rect x="360.4" y="1436.2" width="26" height="55" rx="1.5" fill="#3d3d41" stroke="#2a2a2c" stroke-width="1"/><path d="M366.4,1436.2 L367,1402 Q372.5,1395 378,1402 L380,1436.2 Z" fill="#626266" stroke="#3a3a3c" stroke-width="1"/><rect x="369" y="1402" width="3" height="33" fill="#85858a"/><rect x="194" y="1741" width="79" height="10.5" rx="3.5" fill="#5e5e64"/><clipPath id="mbody0"><path d="M167,1409.5 L293.5,1409.5 Q298,1410 299,1418 L300.5,1440 L300.5,1722 Q300.5,1745 280,1745.5 L181,1745.5 Q160.5,1745 160.5,1722 L160.5,1440 L162,1418 Q163,1410 167,1409.5 Z"/></clipPath><path d="M167,1409.5 L293.5,1409.5 Q298,1410 299,1418 L300.5,1440 L300.5,1722 Q300.5,1745 280,1745.5 L181,1745.5 Q160.5,1745 160.5,1722 L160.5,1440 L162,1418 Q163,1410 167,1409.5 Z" fill="#d6d6d9"/><g clip-path="url(#mbody0)"><rect x="158" y="1405" width="12" height="345" fill="#a6a6ad"/><rect x="170" y="1405" width="3" height="345" fill="#c4c4ca"/><rect x="291" y="1405" width="12" height="345" fill="#b2b2b8"/><rect x="288" y="1405" width="3" height="345" fill="#c8c8cd"/></g><path d="M167,1409.5 L293.5,1409.5 Q298,1410 299,1418 L300.5,1440 L300.5,1722 Q300.5,1745 280,1745.5 L181,1745.5 Q160.5,1745 160.5,1722 L160.5,1440 L162,1418 Q163,1410 167,1409.5 Z" fill="none" stroke="#808086" stroke-width="1.6"/><rect x="173.3" y="1438.7" width="113.5" height="19.5" rx="6" fill="#5a5a60"/><rect x="173.3" y="1461.3" width="113.5" height="118.7" rx="3" fill="#5a5a60"/><rect x="182" y="1474.6" width="95.4" height="93.8" fill="#6f9e8c"/><polygon points="226,1474.6 257,1474.6 225,1568.4 195,1568.4" fill="#94d3bc"/><path d="M171,1592 Q230,1581 291,1592" fill="none" stroke="#86868c" stroke-width="1.6"/><path d="M171,1594.5 Q230,1583.5 291,1594.5" fill="none" stroke="#f2f2f4" stroke-width="1.2"/><path d="M177,1616 Q177,1604 190,1603 Q229,1599 268,1603 Q281,1604 281,1616 L281,1712 Q281,1725 268,1725 L190,1725 Q177,1725 177,1712 Z" fill="#8c8d96" stroke="#c6c6ca" stroke-width="1.5"/><circle cx="197" cy="1626" r="11.5" fill="#5c5d63" stroke="#d2d2d5" stroke-width="1.3"/><circle cx="228" cy="1626" r="11.5" fill="#5c5d63" stroke="#d2d2d5" stroke-width="1.3"/><circle cx="259.4" cy="1626" r="11.5" fill="#5c5d63" stroke="#d2d2d5" stroke-width="1.3"/><circle cx="214.5" cy="1655.7" r="7.8" fill="#5c5d63" stroke="#d2d2d5" stroke-width="1.3"/><circle cx="244" cy="1655.7" r="7.8" fill="#5c5d63" stroke="#d2d2d5" stroke-width="1.3"/><circle cx="214.5" cy="1680" r="7.8" fill="#5c5d63" stroke="#d2d2d5" stroke-width="1.3"/><circle cx="244" cy="1680" r="7.8" fill="#5c5d63" stroke="#d2d2d5" stroke-width="1.3"/><circle cx="229.4" cy="1700.6" r="7.8" fill="#5c5d63" stroke="#d2d2d5" stroke-width="1.3"/><path d="M180,1410 L180.3,1386 L193,1386 L193.3,1410 Z" fill="#4e4e52" stroke="#333" stroke-width="1"/><rect x="182" y="1388" width="3" height="21" fill="#d0d0d4"/><path d="M180.8,1386 L182,1364 Q187,1361 192,1364 L192.6,1386 Z" fill="#3f3f43" stroke="#2a2a2a" stroke-width="1"/><rect x="213.5" y="1405" width="24" height="5.5" rx="1.5" fill="#555559"/><rect x="221.2" y="1390" width="7.8" height="15.5" fill="#d2d2d5" stroke="#555" stroke-width="0.8"/><rect x="221.6" y="1379" width="7" height="11" fill="#8a8a8e" stroke="#444" stroke-width="0.8"/><rect x="221.6" y="1382" width="7" height="1.6" fill="#333"/><rect x="221.6" y="1387" width="7" height="1.6" fill="#333"/><path d="M188.9,1364 C191,1342 219,1338 225,1366 C229,1385 239,1400 243,1409.5" fill="none" stroke="#141414" stroke-width="2.7" stroke-linecap="round"/><path d="M225.5,1379 C225,1368 227,1360 230,1360.5 C236,1361 246,1385 253.5,1409.5" fill="none" stroke="#141414" stroke-width="2.7" stroke-linecap="round"/><path d="M254.5,1409.5 C265,1385 278,1378 292,1379 C315,1381 330,1395 330.2,1419" fill="none" stroke="#141414" stroke-width="2.7" stroke-linecap="round"/><path d="M257,1409.5 C275,1378 295,1365 320.6,1365 C350,1365 370,1378 372.5,1397" fill="none" stroke="#141414" stroke-width="2.7" stroke-linecap="round"/></g><g transform="translate(756.5,0.8)"><clipPath id="flin1"><path d="M312.5,1548 L312.5,1590 Q312.5,1604 306.5,1617 L219,1813 Q209,1834 229,1846 Q289,1882 365,1882 Q441,1882 501,1846 Q521,1834 511,1813 L424,1617 Q417.5,1604 417.5,1590 L417.5,1548 Z"/></clipPath><path d="M308.5,1545 L308.5,1590 Q308.5,1602 302,1614 L212,1812 Q200,1838 222,1852 Q285,1890.5 365,1890.5 Q445,1890.5 508,1852 Q530,1838 518,1812 L428.5,1614 Q421.5,1602 421.5,1590 L421.5,1545 Z" fill="#f6f7f9" stroke="#383838" stroke-width="2.6"/><path d="M312.5,1548 L312.5,1590 Q312.5,1604 306.5,1617 L219,1813 Q209,1834 229,1846 Q289,1882 365,1882 Q441,1882 501,1846 Q521,1834 511,1813 L424,1617 Q417.5,1604 417.5,1590 L417.5,1548 Z" fill="#e3e7ec"/><g clip-path="url(#flin1)"><path d="M312,1548 L338,1548 L338,1700 L280,1700 Z" fill="#ebeef2"/><path d="M395,1548 L419,1548 L470,1700 L420,1700 Z" fill="#d9dee4"/><path d="M250,1698 Q370,1680 460,1698 L560,1900 L170,1900 Z" fill="#c6dcf0"/><ellipse cx="370" cy="1698" rx="82" ry="13.5" fill="#d2e3f3"/><path d="M420,1700 L470,1700 L540,1880 L490,1880 Z" fill="#b7d2ea" opacity="0.8"/><ellipse cx="363" cy="1854" rx="88" ry="17" fill="#b2cfe7"/><path d="M222,1850 Q365,1790 508,1850" fill="none" stroke="#7a9cb8" stroke-width="1.3"/></g><ellipse cx="370" cy="1698" rx="82" ry="13.5" fill="none" stroke="#4f86b6" stroke-width="1.6"/><path d="M288,1702 L221,1813 Q211,1833 231,1845 Q290,1880 365,1880 Q440,1880 499,1845 Q519,1833 509,1813 L452,1702" fill="none" stroke="#3f78ab" stroke-width="2"/><path d="M413,1775 Q432,1769 452,1766" fill="none" stroke="#6f8aa3" stroke-width="1.5"/><path d="M430,1845 Q455,1840 478,1832" fill="none" stroke="#6f8aa3" stroke-width="1.5"/><path d="M256,1760 L262,1748" stroke="#ffffff" stroke-width="3" opacity="0.9"/><path d="M244,1806 L248,1796" stroke="#ffffff" stroke-width="3" opacity="0.9"/><ellipse cx="366.5" cy="1533" rx="67.5" ry="14" fill="#eef1f4" stroke="#383838" stroke-width="2.3"/><ellipse cx="366.5" cy="1531" rx="57" ry="8.5" fill="#dfe4e9" stroke="#b9c1c9" stroke-width="1"/><path d="M308.5,1545 Q366,1556 421.5,1545" fill="none" stroke="#9aa3ac" stroke-width="1.2"/><rect x="328.6" y="1560" width="3" height="165" fill="#1e1e1e"/><rect x="322.3" y="1441.7" width="14.3" height="122" rx="2" fill="#545458" stroke="#2e2e30" stroke-width="1"/><rect x="325" y="1443" width="3" height="118" fill="#77777c"/><rect x="324.5" y="1536" width="10" height="28" fill="#4a4a4e" stroke="#2e2e30" stroke-width="1"/><rect x="317.6" y="1436.2" width="23.4" height="5.5" rx="1.5" fill="#3d3d41"/><path d="M324,1436.2 L325,1420 Q329.6,1417 334.5,1420 L335.5,1436.2 Z" fill="#5a5a5e" stroke="#333" stroke-width="0.8"/><path d="M362,1491 L362,1732 Q373.5,1746 385,1732 L385,1491 Z" fill="#c9cbcf" fill-opacity="0.75" stroke="#9da0a5" stroke-width="1.4"/><path d="M368,1491 L368,1722 M379,1491 L379,1722" fill="none" stroke="#b0b3b8" stroke-width="1.2"/><path d="M371,1700 Q373.5,1735 376,1700" fill="none" stroke="#a2a5aa" stroke-width="1"/><rect x="360.4" y="1436.2" width="26" height="55" rx="1.5" fill="#3d3d41" stroke="#2a2a2c" stroke-width="1"/><path d="M366.4,1436.2 L367,1402 Q372.5,1395 378,1402 L380,1436.2 Z" fill="#626266" stroke="#3a3a3c" stroke-width="1"/><rect x="369" y="1402" width="3" height="33" fill="#85858a"/><rect x="194" y="1741" width="79" height="10.5" rx="3.5" fill="#5e5e64"/><clipPath id="mbody1"><path d="M167,1409.5 L293.5,1409.5 Q298,1410 299,1418 L300.5,1440 L300.5,1722 Q300.5,1745 280,1745.5 L181,1745.5 Q160.5,1745 160.5,1722 L160.5,1440 L162,1418 Q163,1410 167,1409.5 Z"/></clipPath><path d="M167,1409.5 L293.5,1409.5 Q298,1410 299,1418 L300.5,1440 L300.5,1722 Q300.5,1745 280,1745.5 L181,1745.5 Q160.5,1745 160.5,1722 L160.5,1440 L162,1418 Q163,1410 167,1409.5 Z" fill="#d6d6d9"/><g clip-path="url(#mbody1)"><rect x="158" y="1405" width="12" height="345" fill="#a6a6ad"/><rect x="170" y="1405" width="3" height="345" fill="#c4c4ca"/><rect x="291" y="1405" width="12" height="345" fill="#b2b2b8"/><rect x="288" y="1405" width="3" height="345" fill="#c8c8cd"/></g><path d="M167,1409.5 L293.5,1409.5 Q298,1410 299,1418 L300.5,1440 L300.5,1722 Q300.5,1745 280,1745.5 L181,1745.5 Q160.5,1745 160.5,1722 L160.5,1440 L162,1418 Q163,1410 167,1409.5 Z" fill="none" stroke="#808086" stroke-width="1.6"/><rect x="173.3" y="1438.7" width="113.5" height="19.5" rx="6" fill="#5a5a60"/><rect x="173.3" y="1461.3" width="113.5" height="118.7" rx="3" fill="#5a5a60"/><rect x="182" y="1474.6" width="95.4" height="93.8" fill="#6f9e8c"/><polygon points="226,1474.6 257,1474.6 225,1568.4 195,1568.4" fill="#94d3bc"/><path d="M171,1592 Q230,1581 291,1592" fill="none" stroke="#86868c" stroke-width="1.6"/><path d="M171,1594.5 Q230,1583.5 291,1594.5" fill="none" stroke="#f2f2f4" stroke-width="1.2"/><path d="M177,1616 Q177,1604 190,1603 Q229,1599 268,1603 Q281,1604 281,1616 L281,1712 Q281,1725 268,1725 L190,1725 Q177,1725 177,1712 Z" fill="#8c8d96" stroke="#c6c6ca" stroke-width="1.5"/><circle cx="197" cy="1626" r="11.5" fill="#5c5d63" stroke="#d2d2d5" stroke-width="1.3"/><circle cx="228" cy="1626" r="11.5" fill="#5c5d63" stroke="#d2d2d5" stroke-width="1.3"/><circle cx="259.4" cy="1626" r="11.5" fill="#5c5d63" stroke="#d2d2d5" stroke-width="1.3"/><circle cx="214.5" cy="1655.7" r="7.8" fill="#5c5d63" stroke="#d2d2d5" stroke-width="1.3"/><circle cx="244" cy="1655.7" r="7.8" fill="#5c5d63" stroke="#d2d2d5" stroke-width="1.3"/><circle cx="214.5" cy="1680" r="7.8" fill="#5c5d63" stroke="#d2d2d5" stroke-width="1.3"/><circle cx="244" cy="1680" r="7.8" fill="#5c5d63" stroke="#d2d2d5" stroke-width="1.3"/><circle cx="229.4" cy="1700.6" r="7.8" fill="#5c5d63" stroke="#d2d2d5" stroke-width="1.3"/><path d="M180,1410 L180.3,1386 L193,1386 L193.3,1410 Z" fill="#4e4e52" stroke="#333" stroke-width="1"/><rect x="182" y="1388" width="3" height="21" fill="#d0d0d4"/><path d="M180.8,1386 L182,1364 Q187,1361 192,1364 L192.6,1386 Z" fill="#3f3f43" stroke="#2a2a2a" stroke-width="1"/><rect x="213.5" y="1405" width="24" height="5.5" rx="1.5" fill="#555559"/><rect x="221.2" y="1390" width="7.8" height="15.5" fill="#d2d2d5" stroke="#555" stroke-width="0.8"/><rect x="221.6" y="1379" width="7" height="11" fill="#8a8a8e" stroke="#444" stroke-width="0.8"/><rect x="221.6" y="1382" width="7" height="1.6" fill="#333"/><rect x="221.6" y="1387" width="7" height="1.6" fill="#333"/><path d="M188.9,1364 C191,1342 219,1338 225,1366 C229,1385 239,1400 243,1409.5" fill="none" stroke="#141414" stroke-width="2.7" stroke-linecap="round"/><path d="M225.5,1379 C225,1368 227,1360 230,1360.5 C236,1361 246,1385 253.5,1409.5" fill="none" stroke="#141414" stroke-width="2.7" stroke-linecap="round"/><path d="M254.5,1409.5 C265,1385 278,1378 292,1379 C315,1381 330,1395 330.2,1419" fill="none" stroke="#141414" stroke-width="2.7" stroke-linecap="round"/><path d="M257,1409.5 C275,1378 295,1365 320.6,1365 C350,1365 370,1378 372.5,1397" fill="none" stroke="#141414" stroke-width="2.7" stroke-linecap="round"/></g><g transform="translate(1429.3,1.8)"><clipPath id="flin2"><path d="M312.5,1548 L312.5,1590 Q312.5,1604 306.5,1617 L219,1813 Q209,1834 229,1846 Q289,1882 365,1882 Q441,1882 501,1846 Q521,1834 511,1813 L424,1617 Q417.5,1604 417.5,1590 L417.5,1548 Z"/></clipPath><path d="M308.5,1545 L308.5,1590 Q308.5,1602 302,1614 L212,1812 Q200,1838 222,1852 Q285,1890.5 365,1890.5 Q445,1890.5 508,1852 Q530,1838 518,1812 L428.5,1614 Q421.5,1602 421.5,1590 L421.5,1545 Z" fill="#f6f7f9" stroke="#383838" stroke-width="2.6"/><path d="M312.5,1548 L312.5,1590 Q312.5,1604 306.5,1617 L219,1813 Q209,1834 229,1846 Q289,1882 365,1882 Q441,1882 501,1846 Q521,1834 511,1813 L424,1617 Q417.5,1604 417.5,1590 L417.5,1548 Z" fill="#e3e7ec"/><g clip-path="url(#flin2)"><path d="M312,1548 L338,1548 L338,1700 L280,1700 Z" fill="#ebeef2"/><path d="M395,1548 L419,1548 L470,1700 L420,1700 Z" fill="#d9dee4"/><path d="M250,1698 Q370,1680 460,1698 L560,1900 L170,1900 Z" fill="#c6dcf0"/><ellipse cx="370" cy="1698" rx="82" ry="13.5" fill="#d2e3f3"/><path d="M420,1700 L470,1700 L540,1880 L490,1880 Z" fill="#b7d2ea" opacity="0.8"/><ellipse cx="363" cy="1854" rx="88" ry="17" fill="#b2cfe7"/><path d="M222,1850 Q365,1790 508,1850" fill="none" stroke="#7a9cb8" stroke-width="1.3"/></g><ellipse cx="370" cy="1698" rx="82" ry="13.5" fill="none" stroke="#4f86b6" stroke-width="1.6"/><path d="M288,1702 L221,1813 Q211,1833 231,1845 Q290,1880 365,1880 Q440,1880 499,1845 Q519,1833 509,1813 L452,1702" fill="none" stroke="#3f78ab" stroke-width="2"/><path d="M413,1775 Q432,1769 452,1766" fill="none" stroke="#6f8aa3" stroke-width="1.5"/><path d="M430,1845 Q455,1840 478,1832" fill="none" stroke="#6f8aa3" stroke-width="1.5"/><path d="M256,1760 L262,1748" stroke="#ffffff" stroke-width="3" opacity="0.9"/><path d="M244,1806 L248,1796" stroke="#ffffff" stroke-width="3" opacity="0.9"/><ellipse cx="366.5" cy="1533" rx="67.5" ry="14" fill="#eef1f4" stroke="#383838" stroke-width="2.3"/><ellipse cx="366.5" cy="1531" rx="57" ry="8.5" fill="#dfe4e9" stroke="#b9c1c9" stroke-width="1"/><path d="M308.5,1545 Q366,1556 421.5,1545" fill="none" stroke="#9aa3ac" stroke-width="1.2"/><rect x="328.6" y="1560" width="3" height="165" fill="#1e1e1e"/><rect x="322.3" y="1441.7" width="14.3" height="122" rx="2" fill="#545458" stroke="#2e2e30" stroke-width="1"/><rect x="325" y="1443" width="3" height="118" fill="#77777c"/><rect x="324.5" y="1536" width="10" height="28" fill="#4a4a4e" stroke="#2e2e30" stroke-width="1"/><rect x="317.6" y="1436.2" width="23.4" height="5.5" rx="1.5" fill="#3d3d41"/><path d="M324,1436.2 L325,1420 Q329.6,1417 334.5,1420 L335.5,1436.2 Z" fill="#5a5a5e" stroke="#333" stroke-width="0.8"/><path d="M362,1491 L362,1732 Q373.5,1746 385,1732 L385,1491 Z" fill="#c9cbcf" fill-opacity="0.75" stroke="#9da0a5" stroke-width="1.4"/><path d="M368,1491 L368,1722 M379,1491 L379,1722" fill="none" stroke="#b0b3b8" stroke-width="1.2"/><path d="M371,1700 Q373.5,1735 376,1700" fill="none" stroke="#a2a5aa" stroke-width="1"/><rect x="360.4" y="1436.2" width="26" height="55" rx="1.5" fill="#3d3d41" stroke="#2a2a2c" stroke-width="1"/><path d="M366.4,1436.2 L367,1402 Q372.5,1395 378,1402 L380,1436.2 Z" fill="#626266" stroke="#3a3a3c" stroke-width="1"/><rect x="369" y="1402" width="3" height="33" fill="#85858a"/><rect x="194" y="1741" width="79" height="10.5" rx="3.5" fill="#5e5e64"/><clipPath id="mbody2"><path d="M167,1409.5 L293.5,1409.5 Q298,1410 299,1418 L300.5,1440 L300.5,1722 Q300.5,1745 280,1745.5 L181,1745.5 Q160.5,1745 160.5,1722 L160.5,1440 L162,1418 Q163,1410 167,1409.5 Z"/></clipPath><path d="M167,1409.5 L293.5,1409.5 Q298,1410 299,1418 L300.5,1440 L300.5,1722 Q300.5,1745 280,1745.5 L181,1745.5 Q160.5,1745 160.5,1722 L160.5,1440 L162,1418 Q163,1410 167,1409.5 Z" fill="#d6d6d9"/><g clip-path="url(#mbody2)"><rect x="158" y="1405" width="12" height="345" fill="#a6a6ad"/><rect x="170" y="1405" width="3" height="345" fill="#c4c4ca"/><rect x="291" y="1405" width="12" height="345" fill="#b2b2b8"/><rect x="288" y="1405" width="3" height="345" fill="#c8c8cd"/></g><path d="M167,1409.5 L293.5,1409.5 Q298,1410 299,1418 L300.5,1440 L300.5,1722 Q300.5,1745 280,1745.5 L181,1745.5 Q160.5,1745 160.5,1722 L160.5,1440 L162,1418 Q163,1410 167,1409.5 Z" fill="none" stroke="#808086" stroke-width="1.6"/><rect x="173.3" y="1438.7" width="113.5" height="19.5" rx="6" fill="#5a5a60"/><rect x="173.3" y="1461.3" width="113.5" height="118.7" rx="3" fill="#5a5a60"/><rect x="182" y="1474.6" width="95.4" height="93.8" fill="#6f9e8c"/><polygon points="226,1474.6 257,1474.6 225,1568.4 195,1568.4" fill="#94d3bc"/><path d="M171,1592 Q230,1581 291,1592" fill="none" stroke="#86868c" stroke-width="1.6"/><path d="M171,1594.5 Q230,1583.5 291,1594.5" fill="none" stroke="#f2f2f4" stroke-width="1.2"/><path d="M177,1616 Q177,1604 190,1603 Q229,1599 268,1603 Q281,1604 281,1616 L281,1712 Q281,1725 268,1725 L190,1725 Q177,1725 177,1712 Z" fill="#8c8d96" stroke="#c6c6ca" stroke-width="1.5"/><circle cx="197" cy="1626" r="11.5" fill="#5c5d63" stroke="#d2d2d5" stroke-width="1.3"/><circle cx="228" cy="1626" r="11.5" fill="#5c5d63" stroke="#d2d2d5" stroke-width="1.3"/><circle cx="259.4" cy="1626" r="11.5" fill="#5c5d63" stroke="#d2d2d5" stroke-width="1.3"/><circle cx="214.5" cy="1655.7" r="7.8" fill="#5c5d63" stroke="#d2d2d5" stroke-width="1.3"/><circle cx="244" cy="1655.7" r="7.8" fill="#5c5d63" stroke="#d2d2d5" stroke-width="1.3"/><circle cx="214.5" cy="1680" r="7.8" fill="#5c5d63" stroke="#d2d2d5" stroke-width="1.3"/><circle cx="244" cy="1680" r="7.8" fill="#5c5d63" stroke="#d2d2d5" stroke-width="1.3"/><circle cx="229.4" cy="1700.6" r="7.8" fill="#5c5d63" stroke="#d2d2d5" stroke-width="1.3"/><path d="M180,1410 L180.3,1386 L193,1386 L193.3,1410 Z" fill="#4e4e52" stroke="#333" stroke-width="1"/><rect x="182" y="1388" width="3" height="21" fill="#d0d0d4"/><path d="M180.8,1386 L182,1364 Q187,1361 192,1364 L192.6,1386 Z" fill="#3f3f43" stroke="#2a2a2a" stroke-width="1"/><rect x="213.5" y="1405" width="24" height="5.5" rx="1.5" fill="#555559"/><rect x="221.2" y="1390" width="7.8" height="15.5" fill="#d2d2d5" stroke="#555" stroke-width="0.8"/><rect x="221.6" y="1379" width="7" height="11" fill="#8a8a8e" stroke="#444" stroke-width="0.8"/><rect x="221.6" y="1382" width="7" height="1.6" fill="#333"/><rect x="221.6" y="1387" width="7" height="1.6" fill="#333"/><path d="M188.9,1364 C191,1342 219,1338 225,1366 C229,1385 239,1400 243,1409.5" fill="none" stroke="#141414" stroke-width="2.7" stroke-linecap="round"/><path d="M225.5,1379 C225,1368 227,1360 230,1360.5 C236,1361 246,1385 253.5,1409.5" fill="none" stroke="#141414" stroke-width="2.7" stroke-linecap="round"/><path d="M254.5,1409.5 C265,1385 278,1378 292,1379 C315,1381 330,1395 330.2,1419" fill="none" stroke="#141414" stroke-width="2.7" stroke-linecap="round"/><path d="M257,1409.5 C275,1378 295,1365 320.6,1365 C350,1365 370,1378 372.5,1397" fill="none" stroke="#141414" stroke-width="2.7" stroke-linecap="round"/></g><text x="945.19" y="1534.00" font-size="56" fill="#1d1d1d" textLength="76.22" lengthAdjust="spacingAndGlyphs">7.4</text>
<path d="M300,515 L300,846 Q300,891.7 345,891.7 L419,891.7 Q463.7,891.7 463.7,846 L463.7,651.5" fill="none" stroke="#d8a53c" stroke-width="9.4" stroke-linejoin="round"/><path d="M716,651.5 L716,828 Q716,873 761,873 L838,873 Q883.5,873 883.5,828 L883.5,490" fill="none" stroke="#a9a9ab" stroke-width="9.4" stroke-linejoin="round"/><path d="M1342.5,490 L1364,829 Q1367,879.5 1412,879.5 L1474,879.5 Q1519.6,879.5 1519.6,834 L1519.6,651.5" fill="none" stroke="#a9a9ab" stroke-width="9.4" stroke-linejoin="round"/><path d="M1377.6,866 L1377.6,1258 Q1377.6,1310.7 1325,1310.7 L1213,1310.7 Q1161,1310.7 1161,1362 L1161,1803" fill="none" stroke="#a9a9ab" stroke-width="9.5" stroke-linejoin="round"/><path d="M1784,652 L1784,829 Q1784,876 1831,876 L1870,876 Q1915.4,876 1915.4,830 L1915.4,512" fill="none" stroke="#7b1f22" stroke-width="9.4" stroke-linejoin="round"/><path d="M471,651.5 C505,725 540,776 590,776 C640,776 675,725 704.5,651.5" fill="none" stroke="#e7e19c" stroke-width="9.4" stroke-linejoin="round"/><path d="M590,776 L590,1241 Q590,1291.2 540,1291.2 L456,1291.2 Q406,1291.2 406,1341 L406,1782" fill="none" stroke="#e7e19c" stroke-width="9.4" stroke-linejoin="round"/><path d="M1537.5,651.5 C1572,725 1605,777 1653.5,777 C1702,777 1745,725 1776.5,652" fill="none" stroke="#c57677" stroke-width="9.4" stroke-linejoin="round"/><path d="M1653,777 L1653,1241 Q1653,1291.1 1703,1291.1 L1787,1291.1 Q1836.9,1291.1 1836.9,1341 L1836.9,1800" fill="none" stroke="#c57677" stroke-width="9.4" stroke-linejoin="round"/><rect x="293.5" y="504.0" width="16" height="13" rx="2.5" fill="#3a3a3a"/><rect x="296.5" y="507.0" width="10" height="7" fill="#595959"/><rect x="878.0" y="477.7" width="16" height="13" rx="2.5" fill="#3a3a3a"/><rect x="881.0" y="480.7" width="10" height="7" fill="#595959"/><rect x="1333.0" y="478.0" width="16" height="13" rx="2.5" fill="#3a3a3a"/><rect x="1336.0" y="481.0" width="10" height="7" fill="#595959"/><rect x="1905.0" y="503.0" width="16" height="13" rx="2.5" fill="#3a3a3a"/><rect x="1908.0" y="506.0" width="10" height="7" fill="#595959"/>
<text x="338.41" y="45.30" font-size="54.5" fill="#151515" textLength="495.29" lengthAdjust="spacingAndGlyphs">adjust mixers so that</text><text x="306.13" y="115.30" font-size="54.5" fill="#151515" textLength="561.75" lengthAdjust="spacingAndGlyphs" style="white-space:pre">pH matches control  pH</text><text x="1386.00" y="45.30" font-size="54.5" fill="#151515" textLength="496.19" lengthAdjust="spacingAndGlyphs">adjust mixers so that</text><text x="1353.13" y="115.30" font-size="54.5" fill="#151515" textLength="563.27" lengthAdjust="spacingAndGlyphs" style="white-space:pre">pH matches control  pH</text><text x="2.97" y="821.50" font-size="52" fill="#151515" textLength="185.20" lengthAdjust="spacingAndGlyphs">100 % O</text><text x="188.61" y="827.00" font-size="34" fill="#151515" textLength="18.68" lengthAdjust="spacingAndGlyphs">2</text><text x="1026.30" y="778.60" font-size="52" fill="#151515" textLength="156.55" lengthAdjust="spacingAndGlyphs">95 % O</text><text x="1183.11" y="784.40" font-size="34" fill="#151515" textLength="18.68" lengthAdjust="spacingAndGlyphs">2</text><text x="1028.80" y="845.70" font-size="52" fill="#151515" textLength="157.66" lengthAdjust="spacingAndGlyphs">5 % CO</text><text x="1187.97" y="852.50" font-size="34" fill="#151515" textLength="18.07" lengthAdjust="spacingAndGlyphs">2</text><text x="1948.74" y="841.00" font-size="52" fill="#151515" textLength="221.76" lengthAdjust="spacingAndGlyphs">100 % CO</text><text x="2168.47" y="846.20" font-size="34" fill="#151515" textLength="19.17" lengthAdjust="spacingAndGlyphs">2</text><text x="382.53" y="1178.90" font-size="52" fill="#151515" textLength="147.78" lengthAdjust="spacingAndGlyphs">98% O</text><text x="531.64" y="1184.00" font-size="34" fill="#151515" textLength="18.31" lengthAdjust="spacingAndGlyphs">2</text><text x="382.37" y="1249.50" font-size="52" fill="#151515" textLength="155.85" lengthAdjust="spacingAndGlyphs">2% CO</text><text x="536.24" y="1254.00" font-size="34" fill="#151515" textLength="18.31" lengthAdjust="spacingAndGlyphs">2</text><text x="1692.03" y="1179.50" font-size="52" fill="#151515" textLength="147.78" lengthAdjust="spacingAndGlyphs">91% O</text><text x="1841.03" y="1184.10" font-size="34" fill="#151515" textLength="18.43" lengthAdjust="spacingAndGlyphs">2</text><text x="1692.09" y="1249.50" font-size="52" fill="#151515" textLength="152.17" lengthAdjust="spacingAndGlyphs">9% CO</text><text x="1845.64" y="1254.00" font-size="34" fill="#151515" textLength="18.31" lengthAdjust="spacingAndGlyphs">2</text><text x="255.15" y="1990.50" font-size="55" fill="#151515" textLength="252.17" lengthAdjust="spacingAndGlyphs">20 mm Hg</text><text x="108.90" y="2060.20" font-size="55" fill="#151515" textLength="531.94" lengthAdjust="spacingAndGlyphs">pH matched to control</text><text x="996.94" y="1990.00" font-size="55" fill="#151515" textLength="249.45" lengthAdjust="spacingAndGlyphs">35 mm Hg</text><text x="847.76" y="2060.30" font-size="55" fill="#151515" textLength="546.72" lengthAdjust="spacingAndGlyphs">Control buffer pH ~ 7.4</text><text x="1724.75" y="1990.00" font-size="55" fill="#151515" textLength="247.71" lengthAdjust="spacingAndGlyphs">55 mm Hg</text><text x="1575.20" y="2060.30" font-size="55" fill="#151515" textLength="530.83" lengthAdjust="spacingAndGlyphs">pH matched to control</text>
</svg>
</body></html>
